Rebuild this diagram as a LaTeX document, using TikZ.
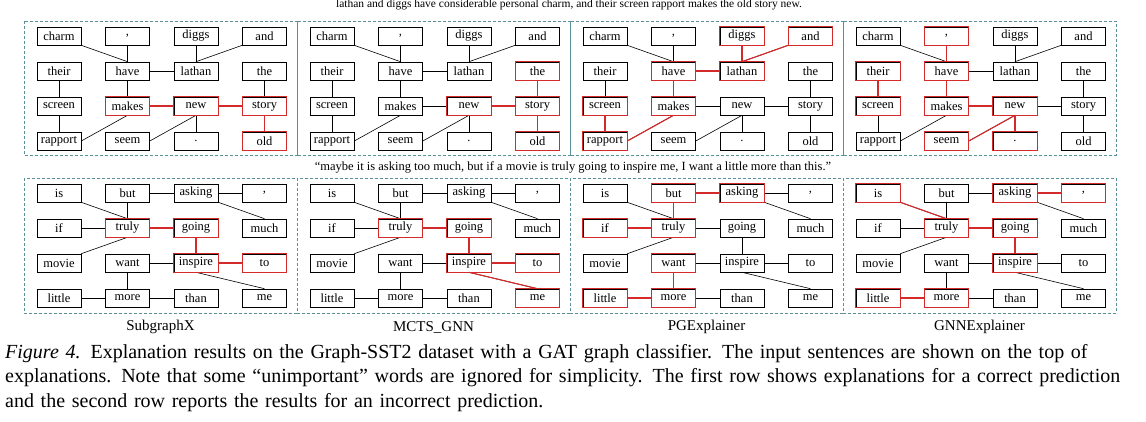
\documentclass[tikz,border=0pt]{standalone}
\usepackage{fontspec}
\setmainfont{Liberation Serif}
\definecolor{dashc}{HTML}{5A9099}
\definecolor{redc}{HTML}{D42A2A}
\tikzset{
  box/.style={draw=black,line width=0.6pt,minimum width=44pt,minimum height=18pt,inner sep=0pt,font=\fontsize{12.5}{13}\selectfont},
  ed/.style={line width=0.6pt,black},
  red/.style={line width=1.1pt,redc},
  panel/.style={draw=dashc,line width=0.6pt,dash pattern=on 3pt off 2pt},
}
\newcommand\toppanel[4]{% #1 prefix, #2 left x, #3 red nodes, #4 red edges
  \foreach \id/\t/\c/\r in {charm/charm/0/0,comma/{,}/1/0,diggs/diggs/2/0,and/and/3/0,their/their/0/1,have/have/1/1,lathan/lathan/2/1,the/the/3/1,screen/screen/0/2,makes/makes/1/2,new/new/2/2,story/story/3/2,rapport/rapport/0/3,seem/seem/1/3,dot/./2/3,old/old/3/3}
    {\node[box] (#1\id) at ({#2+35+68.5*\c},{36+35*\r}) {\t};}
  \foreach \a/\b in {charm.south east/have.north,comma/have,diggs/lathan,and.south west/lathan.north,have/lathan,their/screen,screen/rapport,have/makes,makes/new,new/story,the/story,story/old,rapport.east/makes.south,seem.east/new.south,new/dot}
    {\draw[ed] (#1\a) -- (#1\b);}
  \foreach \a/\b in {#4} {\draw[red] (#1\a) -- (#1\b);}
  \foreach \n in {#3} {\draw[red] (#1\n.south west) rectangle (#1\n.north east);}
}
\newcommand\botpanel[4]{%
  \foreach \id/\t/\c/\r in {is/is/0/0,but/but/1/0,asking/asking/2/0,comma/{,}/3/0,if/if/0/1,truly/truly/1/1,going/going/2/1,much/much/3/1,movie/movie/0/2,want/want/1/2,inspire/inspire/2/2,to/to/3/2,little/little/0/3,more/more/1/3,than/than/2/3,me/me/3/3}
    {\node[box] (#1\id) at ({#2+35+68.5*\c},{193+35*\r}) {\t};}
  \foreach \a/\b in {is.south east/truly.north,but/truly,but/asking,asking/comma,asking.south east/much.north,if/truly,truly/going,truly.south/movie.north east,going/inspire,want/inspire,inspire/to,inspire.south/me.north,want/more,little/more,more/than}
    {\draw[ed] (#1\a) -- (#1\b);}
  \foreach \a/\b in {#4} {\draw[red] (#1\a) -- (#1\b);}
  \foreach \n in {#3} {\draw[red] (#1\n.south west) rectangle (#1\n.north east);}
}
\begin{document}
\begin{tikzpicture}[x=1pt,y=-1pt]
\useasboundingbox[fill=white] (0,0) rectangle (1146,422);
\node[font=\fontsize{11.5}{12}\selectfont,inner sep=0pt] (t1) at (569,5) {lathan and diggs have considerable personal charm, and their screen rapport makes the old story new.};
\node[font=\fontsize{12.5}{13}\selectfont] (t2) at (573,167) {“maybe it is asking too much, but if a movie is truly going to inspire me, I want a little more than this.”};
\foreach \k in {0,1,2,3} {
  \draw[panel] ({24+273*\k},21) rectangle ({24+273*(\k+1)},155);
  \draw[panel] ({24+273*\k},178) rectangle ({24+273*(\k+1)},313);
}
\toppanel{a}{24}{makes,new,story,old}{makes/new,new/story,story/old}
\toppanel{b}{297}{the,new,story,old}{new/story,the/story,story/old}
\toppanel{c}{570}{diggs,and,have,lathan,screen,makes,rapport}{diggs/lathan,and.south west/lathan.north,have/lathan,have/makes,screen/rapport,rapport.east/makes.south}
\toppanel{d}{843}{comma,their,have,screen,makes,new,seem,dot}{comma/have,their/screen,have/makes,makes/new,seem.east/new.south,new/dot}
\botpanel{e}{24}{truly,going,inspire,to}{truly/going,going/inspire,inspire/to}
\botpanel{f}{297}{truly,going,inspire,to,me}{truly/going,going/inspire,inspire/to,inspire.south/me.north}
\botpanel{g}{570}{but,asking,if,truly,want,little,more}{but/asking,but/truly,if/truly,want/more,little/more}
\botpanel{h}{843}{is,asking,comma,truly,going,inspire,little,more}{is.south east/truly.north,asking/comma,truly/going,going/inspire,little/more}
\foreach \k/\n in {0/SubgraphX,1/MCTS\_GNN,2/PGExplainer,3/GNNExplainer}
  \node[font=\fontsize{15}{16}\selectfont] (lab\k) at ({24+273*\k+136.5},327) {\n};
\node[anchor=north west,inner sep=0pt,text width=1136pt,font=\fontsize{20}{24.5}\selectfont] (cap) at (5,344)
 {\textit{Figure 4.} Explanation results on the Graph-SST2 dataset with a GAT graph classifier. The input sentences are shown on the top of\linebreak explanations. Note that some “unimportant” words are ignored for simplicity. The first row shows explanations for a correct prediction\linebreak and the second row reports the results for an incorrect prediction.};
\end{tikzpicture}
\end{document}
